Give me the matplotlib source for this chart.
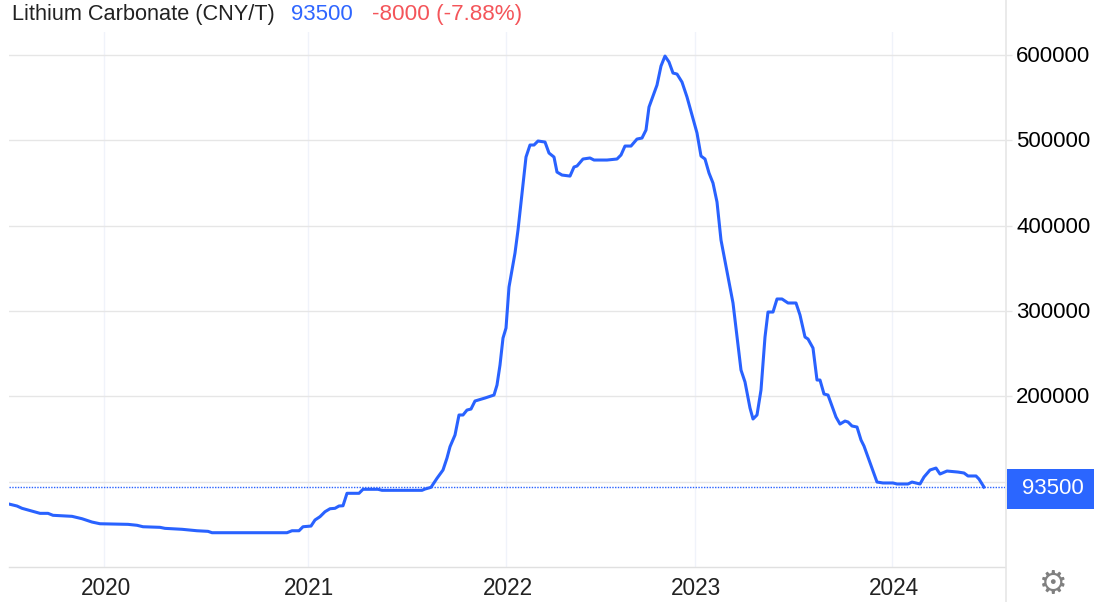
import matplotlib
matplotlib.use('Agg')
import matplotlib.pyplot as plt
from matplotlib.patches import Rectangle
from matplotlib.transforms import ScaledTranslation

plt.rcParams['font.family'] = ['Liberation Sans', 'DejaVu Sans']

# x is the position along the time axis, years are not evenly spaced on it
sessions = [0, 8, 13, 19, 31, 39, 44, 63, 73, 83, 91, 119, 128, 134, 151, 156, 168, 173, 188, 199, 203, 278, 283, 290, 294, 302,
            306, 311, 316, 321, 326, 330, 334, 338, 350, 354, 369, 373, 413, 416, 422, 428, 434, 438, 441, 446, 450, 454,
            458, 462, 466, 476, 485, 488, 491, 494, 497, 500, 506, 509, 517, 521, 525, 529, 536, 540, 545, 548, 553, 561,
            565, 568, 574, 581, 585, 598, 608, 612, 616, 622, 628, 633, 637, 640, 648, 652, 656, 660, 664, 668, 673, 678,
            688, 692, 696, 700, 704, 708, 712, 724, 732, 736, 741, 744, 748, 752, 756, 759, 764, 768, 773, 779, 787, 791,
            796, 799, 804, 808, 811, 815, 819, 827, 831, 836, 839, 843, 848, 852, 855, 868, 874, 884, 888, 899, 903, 911,
            915, 921, 927, 931, 938, 949, 955, 959, 967, 970, 975]
prices = [73600, 71300, 68600, 66600, 62700, 62700, 60400, 59200, 56400, 52500, 50500, 49800, 48700, 47000, 46300, 45100, 44300, 44000, 42300, 41600, 40000, 40000, 42300, 42300, 47000, 47800,
          54900, 58800, 64600, 68100, 68600, 71300, 71600, 86200, 86200, 90900, 90900, 89700, 89700, 91200, 93200, 103800, 113500, 127600, 140800, 154500, 178000, 178000,
          183800, 185000, 194400, 197900, 201400, 213100, 236600, 268200, 279900, 328000, 367900, 394800, 480400, 494500, 494500, 499200, 498000, 485100, 480400, 462800, 459300, 458100,
          468700, 469900, 478100, 479300, 476900, 476900, 478100, 482800, 493300, 493300, 501500, 502700, 512100, 539000, 564800, 587100, 598800, 591800, 578900, 577700, 568300, 550800,
          508600, 481600, 478100, 461700, 449900, 427700, 383100, 309300, 230700, 216700, 186200, 173300, 178000, 207300, 269400, 298700, 298700, 314000, 314000, 309300, 309300, 295200,
          269400, 267100, 256500, 219000, 219000, 202600, 201400, 175600, 167400, 170900, 169800, 165100, 163900, 148700, 141600, 99400, 98300, 98300, 97100, 97100, 99400, 97100,
          105300, 113500, 115800, 108800, 112300, 111100, 110000, 106500, 106500, 102900, 93500]

year_pos = [95.5, 299, 497, 686, 883]
year_labels = ['2020', '2021', '2022', '2023', '2024']
y_ticks = [100000, 200000, 300000, 400000, 500000, 600000]
y_labels = ['', '200000', '300000', '400000', '500000', '600000']
last_price = 93500

blue = '#2962ff'

fig = plt.figure(figsize=(10.94, 6.02), dpi=100)
ax = fig.add_axes([9 / 1094, 35 / 602, 996 / 1094, 535 / 602])

ax.plot(sessions, prices, color=blue, lw=2.2, solid_joinstyle='round', zorder=3)
ax.axhline(last_price, color=blue, lw=1, ls=(0, (1, 1)), zorder=2)

ax.set_xlim(0, 996)
ax.set_ylim(-200, 627000)
ax.set_xticks(year_pos)
ax.set_xticklabels(year_labels)
ax.set_yticks(y_ticks)
ax.set_yticklabels(y_labels)
ax.yaxis.tick_right()
ax.tick_params(axis='y', length=5, width=1, color='#e6e6e6', pad=3, labelsize=16, labelcolor='#000000')
ax.tick_params(axis='x', length=0, pad=7.5, labelsize=16.3, labelcolor='#222222')
ax.grid(axis='y', color='#e6e6e6', lw=1)
ax.grid(axis='x', color='#f0f3fa', lw=1)
ax.set_axisbelow(True)
for side in ['top', 'left', 'right']:
    ax.spines[side].set_visible(False)
ax.spines['bottom'].set_color('#e0e0e0')
ax.spines['bottom'].set_linewidth(1)

# nudge the labels to where they sit in the page
for lab in ax.get_xticklabels():
    lab.set_transform(lab.get_transform() + ScaledTranslation(1.5 / 100, 0, fig.dpi_scale_trans))
for lab in ax.get_yticklabels():
    lab.set_transform(lab.get_transform() + ScaledTranslation(0, 1 / 100, fig.dpi_scale_trans))

# price box on the right axis
fig.add_artist(Rectangle((1007 / 1094, 1 - 509 / 602), 87 / 1094, 40 / 602, transform=fig.transFigure,
                         color='#2b66ff', lw=0, zorder=5))
fig.text(1053 / 1094, 1 - 488 / 602, str(last_price), color='white', fontsize=16, ha='center', va='center', zorder=6)

# header
fig.text(12 / 1094, 1 - 14.5 / 602, 'Lithium Carbonate (CNY/T)', color='#222222', fontsize=15.7, va='center')
fig.text(291 / 1094, 1 - 14.5 / 602, '93500', color='#2f66ff', fontsize=16, va='center')
fig.text(372 / 1094, 1 - 14.5 / 602, '-8000 (-7.88%)', color='#f4555a', fontsize=16.2, va='center')

# full height divider between plot and price axis, settings icon below it
fig.add_artist(plt.Line2D([1005.5 / 1094, 1005.5 / 1094], [0, 1], color='#e6e6e6', lw=1.2))
fig.text(1053 / 1094, 1 - 584 / 602, '\u2699', color='#808080', fontsize=23, ha='center', va='center',
         family='DejaVu Sans')

fig.savefig('out.png', dpi=100)
